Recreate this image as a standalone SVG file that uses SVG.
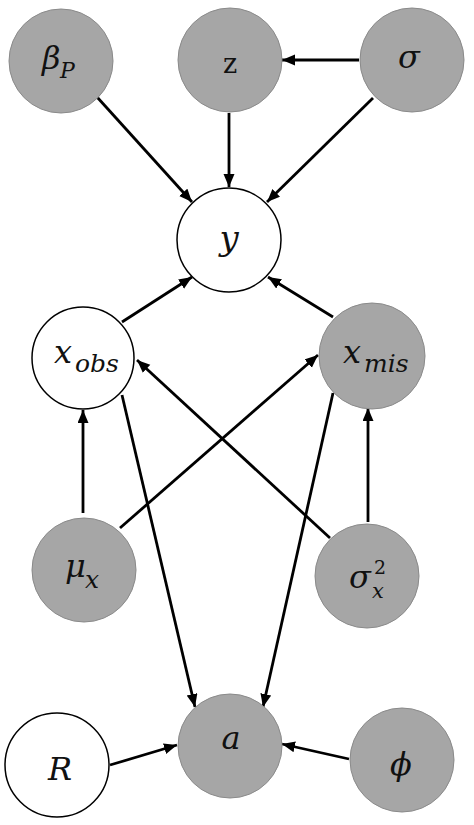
<svg xmlns="http://www.w3.org/2000/svg" width="474" height="825" viewBox="0 0 474 825">
<style>
.g{fill:#a6a6a6;stroke:#8a8a8a;stroke-width:1}
.w{fill:#ffffff;stroke:#000000;stroke-width:1.5}
.t{font-family:"DejaVu Serif","Liberation Serif",serif;font-style:italic;font-size:32px;fill:#111}
.s{font-size:25px}
.u{font-style:normal}
.e{stroke:#000;stroke-width:2.8;fill:none;marker-end:url(#ah)}
</style>
<defs>
<marker id="ah" markerUnits="userSpaceOnUse" markerWidth="14" markerHeight="12" refX="13" refY="5.5" orient="auto">
<path d="M0,0 L13,5.5 L0,11 z" fill="#000"/>
</marker>
</defs>
<g id="connectors">
<line class="e" x1="359" y1="60" x2="282" y2="60"/>
<line class="e" x1="97" y1="97" x2="192" y2="202"/>
<line class="e" x1="229" y1="113" x2="229" y2="187"/>
<line class="e" x1="373" y1="98" x2="267" y2="202"/>
<line class="e" x1="122" y1="322" x2="192" y2="277"/>
<line class="e" x1="333" y1="317" x2="268" y2="277"/>
<line class="e" x1="83" y1="513" x2="83" y2="410"/>
<line class="e" x1="120" y1="528" x2="318" y2="355"/>
<line class="e" x1="330" y1="538" x2="137" y2="360"/>
<line class="e" x1="368" y1="522" x2="368" y2="408"/>
<line class="e" x1="122" y1="395" x2="195" y2="707"/>
<line class="e" x1="333" y1="393" x2="263" y2="707"/>
<line class="e" x1="110" y1="765" x2="177" y2="745"/>
<line class="e" x1="349" y1="759" x2="282" y2="744"/>
</g>
<g id="beta_P">
<circle class="g" cx="61" cy="61" r="52"/>
<text class="t"><tspan x="42" y="69">β</tspan><tspan style="font-size:22px" x="60" y="78">P</tspan></text>
</g>
<g id="z">
<circle class="g" cx="230" cy="60" r="52"/>
<text class="t u" x="230" y="73" text-anchor="middle" style="font-size:27px">z</text>
</g>
<g id="sigma">
<circle class="g" cx="412" cy="60" r="52"/>
<text class="t" x="409" y="68" text-anchor="middle">σ</text>
</g>
<g id="y">
<circle class="w" cx="229" cy="240" r="52"/>
<text class="t" x="229" y="250" text-anchor="middle" style="font-size:34px">y</text>
</g>
<g id="x_obs">
<circle class="w" cx="83" cy="358" r="51"/>
<text class="t"><tspan x="54" y="363">x</tspan><tspan class="s" x="75" y="372">obs</tspan></text>
</g>
<g id="x_mis">
<circle class="g" cx="372" cy="356" r="53"/>
<text class="t"><tspan x="343" y="363">x</tspan><tspan class="s" x="364" y="372">mis</tspan></text>
</g>
<g id="mu_x">
<circle class="g" cx="84" cy="570" r="52"/>
<text class="t"><tspan x="65" y="577">μ</tspan><tspan class="s" x="85" y="588">x</tspan></text>
</g>
<g id="sigma_x2">
<circle class="g" cx="367" cy="576" r="52"/>
<text class="t"><tspan x="349" y="588">σ</tspan><tspan style="font-size:21px" x="372" y="598">x</tspan><tspan class="u" style="font-size:19px" x="374" y="574">2</tspan></text>
</g>
<g id="R">
<circle class="w" cx="57" cy="765" r="52"/>
<text class="t" x="60" y="780" text-anchor="middle">R</text>
</g>
<g id="a">
<circle class="g" cx="230" cy="746" r="52"/>
<text class="t" x="231" y="749" text-anchor="middle">a</text>
</g>
<g id="phi">
<circle class="g" cx="402" cy="760" r="52"/>
<text class="t" x="401" y="775" text-anchor="middle">ϕ</text>
</g>
</svg>
